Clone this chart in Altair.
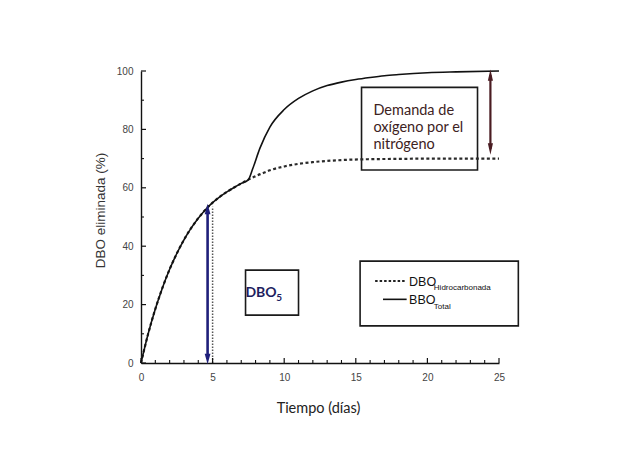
import altair as alt
import pandas as pd

# ---- data ----
t_hid = [0, 0.5, 1, 1.5, 2, 2.5, 3, 3.5, 4, 4.5, 5, 5.5, 6, 6.5, 7, 7.5,
         8, 8.5, 9, 10, 11, 12, 13, 14, 16, 18, 20, 22, 25]
v_hid = [0, 10, 18.5, 25.8, 32.1, 37.5, 42.2, 46.2, 49.6, 52.5, 54.9, 56.9, 58.6, 60.1, 61.5, 62.8,
         64, 65, 66, 67.3, 68.2, 68.8, 69.2, 69.5, 69.8, 69.9, 70, 70, 70]

t_tot = [0, 0.5, 1, 1.5, 2, 2.5, 3, 3.5, 4, 4.5, 5, 5.5, 6, 6.5, 7, 7.5,
         7.8, 8.3, 9, 10, 11, 12, 13, 14, 15, 16, 17, 18, 20, 22, 25]
v_tot = [0, 10, 18.5, 25.8, 32.1, 37.5, 42.2, 46.2, 49.6, 52.5, 54.9, 56.9, 58.6, 60.1, 61.5, 62.8,
         66.5, 73.5, 80.8, 86.8, 90.6, 93.2, 95, 96.2, 97.1, 97.8, 98.4, 98.8, 99.4, 99.7, 100]

x_major = [0, 5, 10, 15, 20, 25]
x_minor = [1, 2, 3, 4, 6, 7, 8, 9, 11, 12, 13, 14, 16, 17, 18, 19, 21, 22, 23, 24]
y_major = [0, 20, 40, 60, 80, 100]
y_minor = [10, 30, 50, 70, 90]

x_title = "Tiempo (días)"
y_title = "DBO eliminada (%)"

# annotation positions (data units)
box_t = [7.3, 15.4, 15.3]
box_t2 = [11.0, 23.5, 26.35]
box_v = [31.8, 94.4, 34.9]
box_v2 = [16.4, 66.1, 12.7]

dbo5_t = 5.0
dbo5_v = 53.5
blue_t = 4.65
blue_v = [1.4, 52.7]
red_t = 24.4
red_v = [73.3, 98.6]

W, H = 358, 292

hid = pd.DataFrame({"t": t_hid, "v": v_hid})
tot = pd.DataFrame({"t": t_tot, "v": v_tot})

xs = alt.Scale(domain=[0, 25], nice=False, zero=False)
ys = alt.Scale(domain=[0, 100], nice=False, zero=False)

X = alt.X("t:Q", scale=xs, axis=alt.Axis(
    values=x_major, format="d", title=x_title, ticks=False, grid=False,
    domainColor="#111", domainWidth=1.4, labelFont="Liberation Sans", labelFontSize=10,
    labelColor="#444", labelPadding=9, labelFlush=False, labelOverlap=False,
    titleFont="Lato", titleFontSize=14.5, titleFontWeight="normal", titleColor="#222",
    titleX=177, titleY=49, titleAlign="center", titleBaseline="alphabetic"))
Y = alt.Y("v:Q", scale=ys, axis=alt.Axis(
    values=y_major, format="d", title=y_title, ticks=False, grid=False,
    domainColor="#111", domainWidth=1.4, labelFont="Liberation Sans", labelFontSize=10,
    labelColor="#444", labelPadding=8, labelFlush=False, labelOverlap=False,
    titleFont="Liberation Sans", titleFontSize=13.5, titleFontWeight="normal", titleColor="#333",
    titleAngle=270, titleX=-37, titleY=139, titleAlign="center", titleBaseline="alphabetic"))

# inward ticks
xmaj = alt.Chart(pd.DataFrame({"t": x_major})).mark_rule(color="#111", strokeWidth=1.2).encode(
    x=X, y=alt.value(H), y2=alt.value(H - 5))
xmin = alt.Chart(pd.DataFrame({"t": x_minor})).mark_rule(color="#111", strokeWidth=1.1).encode(
    x=X, y=alt.value(H), y2=alt.value(H - 3))
ymaj = alt.Chart(pd.DataFrame({"v": y_major})).mark_rule(color="#111", strokeWidth=1.2).encode(
    y=Y, x=alt.value(0), x2=alt.value(5))
ymin = alt.Chart(pd.DataFrame({"v": y_minor})).mark_rule(color="#111", strokeWidth=1.1).encode(
    y=Y, x=alt.value(0), x2=alt.value(3))

boxes = alt.Chart(pd.DataFrame({"t": box_t, "t2": box_t2, "v": box_v, "v2": box_v2})).mark_rect(
    fill="white", stroke="#1a1a1a", strokeWidth=1.6).encode(
    x=X, x2="t2:Q", y=Y, y2="v2:Q")

hid_line = alt.Chart(hid).mark_line(color="#2a2a2a", strokeWidth=2.2, strokeDash=[3, 2.5],
                                    interpolate="monotone").encode(x=X, y=Y)
tot_line = alt.Chart(tot).mark_line(color="#111", strokeWidth=1.6,
                                    interpolate="monotone").encode(x=X, y=Y)

dotted5 = alt.Chart(pd.DataFrame({"t": [dbo5_t], "v": [0], "v2": [dbo5_v]})).mark_rule(
    color="#555", strokeWidth=1.5, strokeDash=[1.5, 1.5]).encode(x=X, y=Y, y2="v2:Q")

blue_rule = alt.Chart(pd.DataFrame({"t": [blue_t], "v": [blue_v[0]], "v2": [blue_v[1]]})).mark_rule(
    color="#1f1f7a", strokeWidth=2.6).encode(x=X, y=Y, y2="v2:Q")
blue_up = alt.Chart(pd.DataFrame({"t": [blue_t], "v": [blue_v[1]]})).mark_point(
    shape="M0,-1L0.55,1L-0.55,1Z", filled=True, size=110, color="#1f1f7a", opacity=1).encode(x=X, y=Y)
blue_dn = alt.Chart(pd.DataFrame({"t": [blue_t], "v": [blue_v[0]]})).mark_point(
    shape="M0,1L0.55,-1L-0.55,-1Z", filled=True, size=110, color="#1f1f7a", opacity=1).encode(x=X, y=Y)

red_rule = alt.Chart(pd.DataFrame({"t": [red_t], "v": [red_v[0]], "v2": [red_v[1]]})).mark_rule(
    color="#4a1c22", strokeWidth=2.2).encode(x=X, y=Y, y2="v2:Q")
red_up = alt.Chart(pd.DataFrame({"t": [red_t], "v": [red_v[1]]})).mark_point(
    shape="M0,-1L0.45,1L-0.45,1Z", filled=True, size=130, color="#4a1c22", opacity=1).encode(x=X, y=Y)
red_dn = alt.Chart(pd.DataFrame({"t": [red_t], "v": [red_v[0]]})).mark_point(
    shape="M0,1L0.45,-1L-0.45,-1Z", filled=True, size=130, color="#4a1c22", opacity=1).encode(x=X, y=Y)

# legend samples
leg_dot = alt.Chart(pd.DataFrame({"t": [16.35], "t2": [18.55], "v": [28.1]})).mark_rule(
    color="#222", strokeWidth=2, strokeDash=[2.5, 2]).encode(x=X, x2="t2:Q", y=Y)
leg_sol = alt.Chart(pd.DataFrame({"t": [16.9], "t2": [18.55], "v": [21.8]})).mark_rule(
    color="#111", strokeWidth=1.6).encode(x=X, x2="t2:Q", y=Y)

def txt(df, size, font="Liberation Sans", weight="normal", color="#111"):
    return alt.Chart(df).mark_text(align="left", baseline="alphabetic", font=font,
                                   fontSize=size, fontWeight=weight, color=color).encode(
        x=X, y=Y, text="label:N")

leg_main = txt(pd.DataFrame({"t": [18.72, 18.72], "v": [26.4, 20.2], "label": ["DBO", "BBO"]}), 12.5)
leg_sub = txt(pd.DataFrame({"t": [20.45, 20.45], "v": [25.0, 18.6],
                            "label": ["Hidrocarbonada", "Total"]}), 8)

dbo_main = txt(pd.DataFrame({"t": [7.29], "v": [22.5], "label": ["DBO"]}), 14, font="Lato",
               weight="bold", color="#1d1d5e")
dbo_sub = txt(pd.DataFrame({"t": [9.45], "v": [21.3], "label": ["5"]}), 10, font="Lato",
              weight="bold", color="#1d1d5e")

dem = txt(pd.DataFrame({"t": [16.23, 16.23, 16.23], "v": [84.9, 79.1, 73.4],
                        "label": ["Demanda de", "oxígeno por el", "nitrógeno"]}),
          14.5, font="Lato", color="#3d2222")

chart = alt.layer(
    boxes, hid_line, tot_line, dotted5, blue_rule, blue_up, blue_dn,
    red_rule, red_up, red_dn, leg_dot, leg_sol, leg_main, leg_sub,
    dbo_main, dbo_sub, dem, xmaj, xmin, ymaj, ymin
).properties(
    width=W, height=H,
    autosize=alt.AutoSizeParams(type="none"),
    padding={"left": 133, "top": 63, "right": 130, "bottom": 80},
    background="white"
).configure_view(stroke=None)

chart.save("out.html", embed_options={"renderer": "svg", "actions": False})
